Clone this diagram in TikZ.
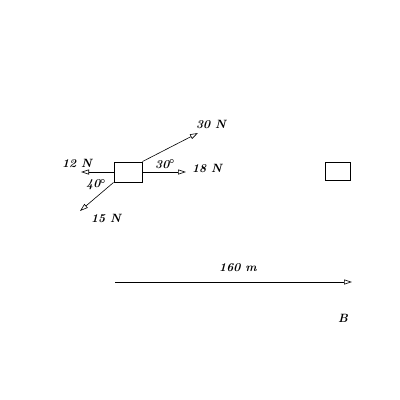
\documentclass[tikz,border=0pt]{standalone}
\usetikzlibrary{arrows.meta}

\tikzset{
  body/.style={draw, line width=0.9pt, inner sep=0pt},
  force/.style={-{Triangle[open,length=8pt,width=5pt]}, line width=0.6pt},
  lbl/.style={font=\fontsize{12}{14}\selectfont\bfseries\itshape\boldmath}
}

\begin{document}
\begin{tikzpicture}[x=1pt,y=-1pt]
      \useasboundingbox (0,0) rectangle (400,400);
      % the two blocks
      \node[body, minimum width=28pt, minimum height=20pt] (boxA) at (128,172) {};
      \node[body, minimum width=25pt, minimum height=18pt] (boxB) at (337.5,171) {};
      % end points of the forces
      \coordinate (tipL) at (81,172);
      \coordinate (tipR) at (186,172);
      \coordinate (tipU) at (198,133);
      \coordinate (tipD) at (80,211);
      \draw[force] (boxA.west) -- (tipL);
      \draw[force] (boxA.east) -- (tipR);
      \draw[force] (boxA.north east) -- (tipU);
      \draw[force] (boxA.south west) -- (tipD);
      \node[lbl] (fL) at (77,163) {12 N};
      \node[lbl] (fR) at (207,168) {18 N};
      \node[lbl] (fU) at (211,124) {30 N};
      \node[lbl] (fD) at (106,218) {15 N};
      \node[lbl] (angU) at (165,164) {30$^{\mathbf{\circ}}$};
      \node[lbl] (angD) at (96,185) {40$^{\mathbf{\circ}}$};
      % displacement
      \coordinate (startP) at (115,282);
      \coordinate (endP) at (352,282);
      \draw[force] (startP) -- (endP);
      \node[lbl] (dist) at (238,268) {160 m};
      \node[lbl] (ptB) at (343,318) {B};
    \end{tikzpicture}
\end{document}
